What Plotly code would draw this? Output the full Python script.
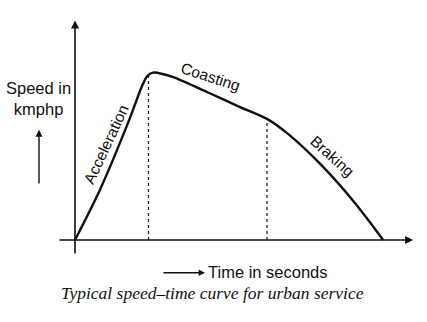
import plotly.graph_objects as go

# Speed-time curve (time in s, speed in km/h, peak normalised to 100)
time_s = [0, 8.3, 18.3, 22.3, 24, 26, 32.7, 44, 55, 64, 71, 82.3, 93.3, 99, 102.7]
speed = [0, 30, 73, 92, 98, 100.2, 97.5, 88.6, 79.6, 72.5, 63.5, 44.5, 22.2, 9, 0]

# phase boundaries (end of acceleration, end of coasting)
phase_t = [24.5, 64]
phase_v = [100, 72.5]
phase_labels = ["Acceleration", "Coasting", "Braking"]

fig = go.Figure()

# dashed drop lines
for t, v in zip(phase_t, phase_v):
    fig.add_trace(go.Scatter(x=[t, t], y=[0, v], mode="lines",
                             line=dict(color="#222", width=1.3, dash="3px,3px"),
                             hoverinfo="skip", showlegend=False))

fig.add_trace(go.Scatter(x=time_s, y=speed, mode="lines",
                         line=dict(color="#111", width=2.4, shape="spline", smoothing=0.7),
                         showlegend=False))

txt = dict(family="Liberation Sans, Arial, sans-serif", size=16.5, color="#111")
lab = dict(family="Liberation Sans, Arial, sans-serif", size=15.5, color="#111")

def arrow(x1, y1, x0, y0, w=1.5, size=1.0):
    fig.add_annotation(x=x1, y=y1, ax=x0, ay=y0, xref="x", yref="y", axref="x", ayref="y",
                       text="", showarrow=True, arrowhead=2, arrowsize=size,
                       arrowwidth=w, arrowcolor="#111")

# axes with arrows
arrow(0, 131.5, 0, -9, w=1.6)
arrow(112.7, 0, -5.7, 0, w=1.6)

# axis labels
fig.add_annotation(x=-12.3, y=85, text="Speed in<br>kmphp", showarrow=False, font=txt,
                   xref="x", yref="y")
arrow(-12, 66, -12, 33, w=1.4)
fig.add_annotation(x=64.3, y=-19.2, text="Time in seconds", showarrow=False, font=txt,
                   xref="x", yref="y")
arrow(43.3, -19.6, 29, -19.6, w=1.4, size=0.9)

# phase labels
fig.add_annotation(x=10.4, y=57, text=phase_labels[0], textangle=-65, showarrow=False,
                   font=lab, xref="x", yref="y")
fig.add_annotation(x=45, y=98, text=phase_labels[1], textangle=18, showarrow=False,
                   font=lab, xref="x", yref="y")
fig.add_annotation(x=85.9, y=50, text=phase_labels[2], textangle=42, showarrow=False,
                   font=lab, xref="x", yref="y")

# caption
fig.add_annotation(x=45.7, y=-31.5, text="<i>Typical speed–time curve for urban service</i>",
                   showarrow=False, xref="x", yref="y",
                   font=dict(family="Liberation Serif, Times New Roman, serif", size=17.5, color="#111"))

fig.update_layout(width=427, height=322, margin=dict(l=0, r=0, t=0, b=0),
                  paper_bgcolor="white", plot_bgcolor="white",
                  xaxis=dict(range=[-25, 117.33], visible=False, fixedrange=True),
                  yaxis=dict(range=[-49.1, 143.7], visible=False, fixedrange=True))

fig.write_html("out.html")
